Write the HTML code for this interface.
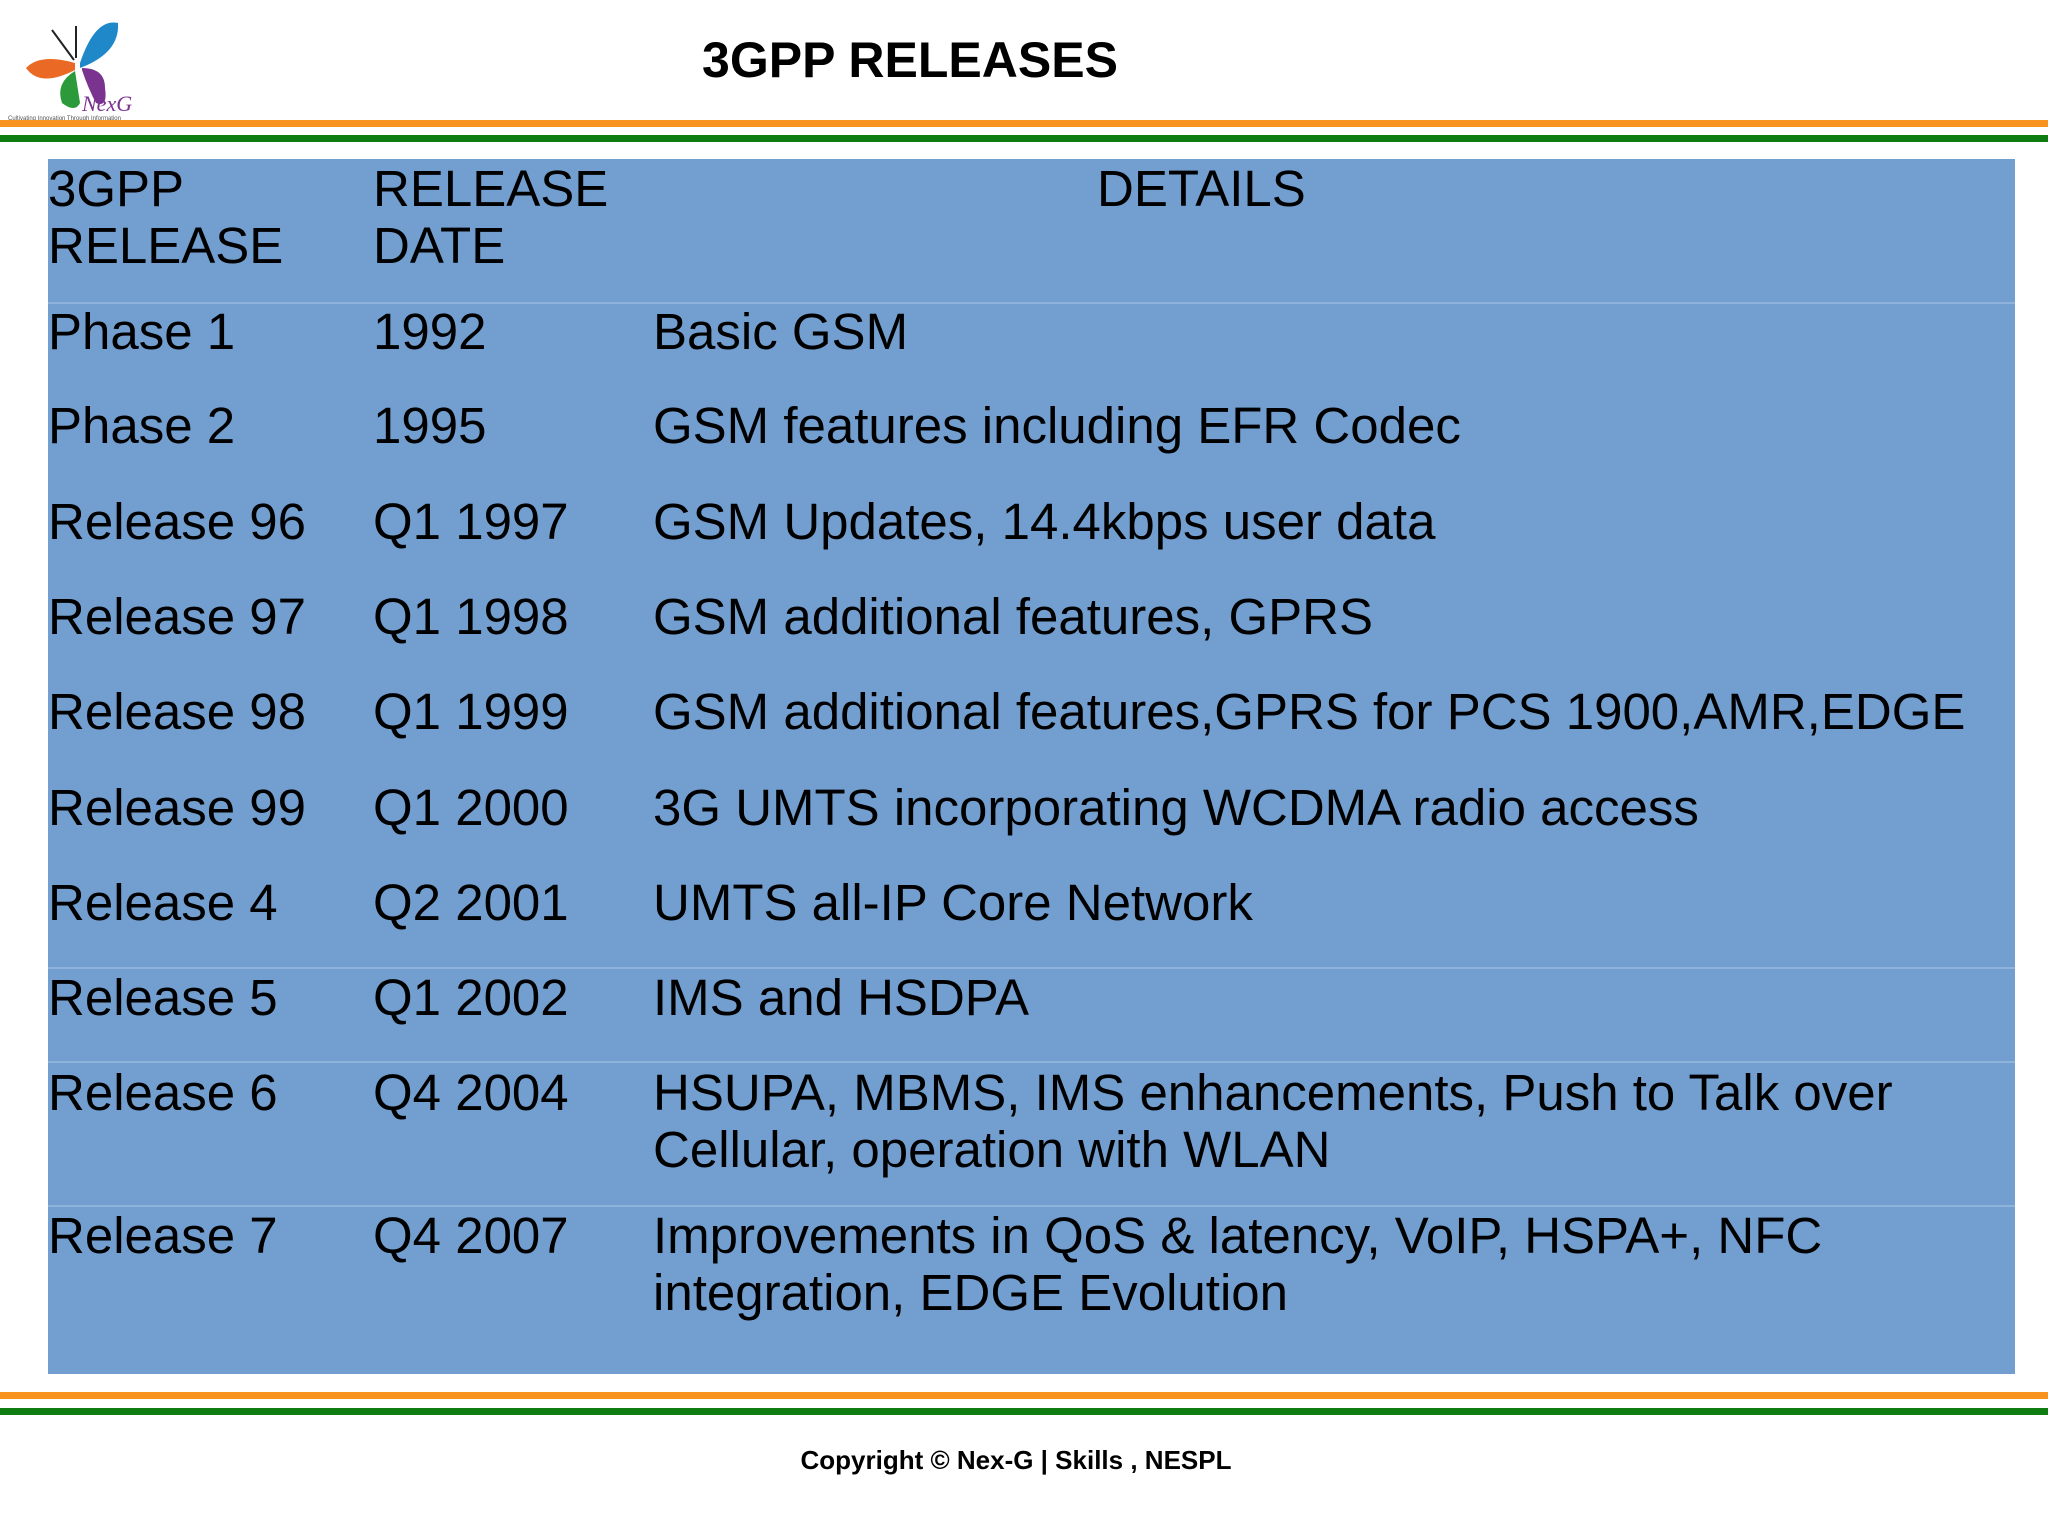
<!DOCTYPE html>
<html><head><meta charset="utf-8"><style>
body{margin:0;width:2048px;height:1536px;background:#fff;position:relative;overflow:hidden;font-family:"Liberation Sans",sans-serif;}
.a{position:absolute;white-space:nowrap;}
.t{font-size:51px;line-height:57px;color:#000;}
.sep{position:absolute;left:48px;width:1967px;height:2px;background:#8fb3db;}
</style></head><body>
<svg class="a" style="left:0;top:8px" width="145" height="115" viewBox="0 0 145 115">
<line x1="52" y1="22" x2="74" y2="52" stroke="#222" stroke-width="2"/>
<line x1="76" y1="18" x2="76" y2="50" stroke="#222" stroke-width="2"/>
<path d="M80 55 Q95 10 118 15 Q120 45 80 60Z" fill="#1f88c8"/>
<path d="M75 55 Q40 45 26 60 Q40 80 75 62Z" fill="#ea6a25"/>
<path d="M75 63 Q55 75 62 95 Q75 105 80 95Z" fill="#2c9a3a"/>
<path d="M82 60 Q105 60 105 80 Q108 100 96 95 Q88 80 82 62Z" fill="#7b3390"/>
<text x="82" y="103" font-family="Liberation Serif" font-style="italic" font-size="22" fill="#7b3390">NexG</text>
<text x="8" y="112" font-size="6" fill="#555">Cultivating Innovation Through Information</text>
</svg>
<div class="a" style="left:0;width:1820px;text-align:center;top:32px;font-size:50px;line-height:57px;font-weight:bold;">3GPP RELEASES</div>
<div class="a" style="left:0;top:120px;width:2048px;height:7px;background:#f7931e"></div>
<div class="a" style="left:0;top:135px;width:2048px;height:7px;background:#0f7d12"></div>
<div class="a" style="left:48px;top:159px;width:1967px;height:1215px;background:#739fd0"></div>
<div class="sep" style="top:302px"></div>
<div class="sep" style="top:967px"></div>
<div class="sep" style="top:1061px"></div>
<div class="sep" style="top:1205px"></div>
<div class="a t" style="left:48px;top:160px">3GPP<br>RELEASE</div>
<div class="a t" style="left:373px;top:160px">RELEASE<br>DATE</div>
<div class="a t" style="left:1097px;top:160px">DETAILS</div>
<div id="rows"></div>
<div class="a" style="left:0;top:1392px;width:2048px;height:7px;background:#f7931e"></div>
<div class="a" style="left:0;top:1408px;width:2048px;height:7px;background:#0f7d12"></div>
<div class="a" style="left:0;width:2032px;text-align:center;top:1445px;font-size:26px;line-height:30px;font-weight:bold;">Copyright © Nex-G | Skills , NESPL</div>
<script>
const releases=["Phase 1","Phase 2","Release 96","Release 97","Release 98","Release 99","Release 4","Release 5","Release 6","Release 7"];
const dates=["1992","1995","Q1 1997","Q1 1998","Q1 1999","Q1 2000","Q2 2001","Q1 2002","Q4 2004","Q4 2007"];
const details=["Basic GSM","GSM features including EFR Codec","GSM Updates, 14.4kbps user data","GSM additional features, GPRS","GSM additional features,GPRS for PCS 1900,AMR,EDGE","3G UMTS incorporating WCDMA radio access","UMTS all-IP Core Network","IMS and HSDPA","HSUPA, MBMS, IMS enhancements, Push to Talk over<br>Cellular, operation with WLAN","Improvements in QoS &amp; latency, VoIP, HSPA+, NFC<br>integration, EDGE Evolution"];
const tops=[303,397,493,588,683,779,874,969,1064,1207];
const host=document.getElementById('rows');
for(let i=0;i<releases.length;i++){
  const cols=[[48,releases[i],'release-cell'],[373,dates[i],'date-cell'],[653,details[i],'details-cell']];
  for(const c of cols){
    const d=document.createElement('div');
    d.className='a t';
    d.style.left=c[0]+'px';d.style.top=tops[i]+'px';
    d.innerHTML=c[1];
    
    
    host.appendChild(d);
  }
}
</script>
</body></html>
